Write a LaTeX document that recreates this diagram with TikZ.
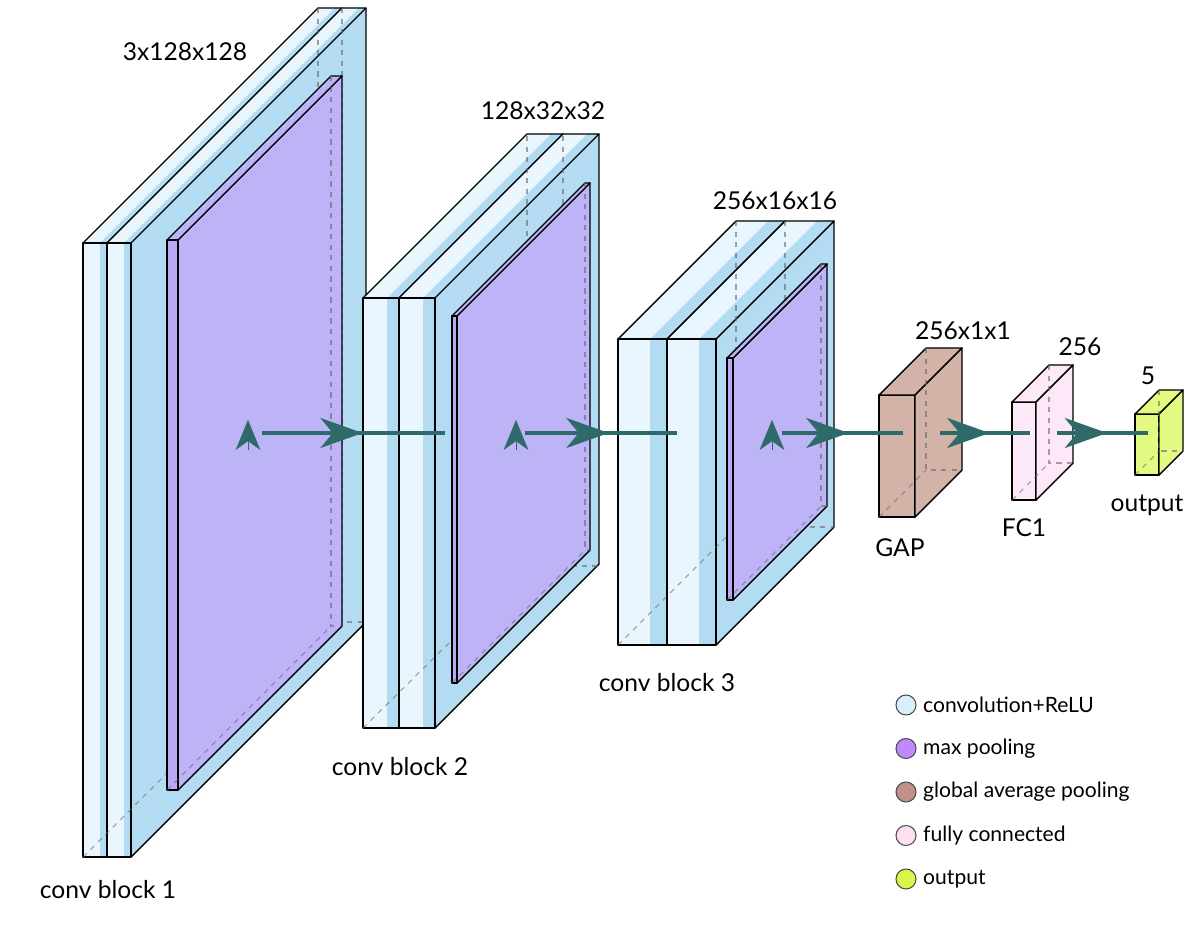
\documentclass[tikz,border=0pt]{standalone}
\usepackage{fontspec}
\setmainfont{Lato}
\usetikzlibrary{arrows.meta,decorations.markings,positioning}
\definecolor{convlight}{HTML}{EAF6FD}
\definecolor{convband}{HTML}{B3DBF1}
\definecolor{poolfill}{HTML}{BDB4F8}
\definecolor{poolfront}{HTML}{B9A8F2}
\definecolor{gapfill}{HTML}{D3B2A8}
\definecolor{fcfill}{HTML}{FDE8F8}
\definecolor{outfill}{HTML}{E2FA82}
\definecolor{arrowteal}{HTML}{2F6A6A}
\tikzset{
  edge/.style={draw=black,line width=0.8pt,line join=round},
  hidden/.style={draw=black!60,dashed,line width=0.6pt,opacity=0.6},
  lbl/.style={font=\fontsize{14}{16}\selectfont},
  flow/.style={draw=arrowteal,line width=2.2pt,
    postaction={decorate},decoration={markings,mark=at position 0.55 with
    {\arrow{Stealth[length=24pt,width=17pt,inset=7pt]}}}},
  tipmark/.style={-{Stealth[length=17pt,width=14pt,inset=5pt]},draw=arrowteal,fill=arrowteal,line width=0.1pt}
}
% cuboid: x, ytop, width, height, depth, fill
\newcommand{\cuboid}[6]{
  \filldraw[fill=#6,edge] (#1,#2) rectangle ({#1+#3},{#2+#4});
  \filldraw[fill=#6,edge] (#1,#2) -- ({#1+#5},{#2-#5}) -- ({#1+#3+#5},{#2-#5}) -- ({#1+#3},#2) -- cycle;
  \filldraw[fill=#6,edge] ({#1+#3},#2) -- ({#1+#3+#5},{#2-#5}) -- ({#1+#3+#5},{#2+#4-#5}) -- ({#1+#3},{#2+#4}) -- cycle;
  \draw[hidden] ({#1+#5},{#2-#5}) -- ({#1+#5},{#2+#4-#5}) -- ({#1+#3+#5},{#2+#4-#5});
  \draw[hidden] (#1,{#2+#4}) -- ({#1+#5},{#2+#4-#5});
}
% conv slab: x, ytop, width, height, depth, band
\newcommand{\convslab}[6]{
  \fill[convlight] (#1,#2) rectangle ({#1+#3},{#2+#4});
  \fill[convband] ({#1+#3-#6},#2) rectangle ({#1+#3},{#2+#4});
  \fill[convlight] (#1,#2) -- ({#1+#5},{#2-#5}) -- ({#1+#3+#5},{#2-#5}) -- ({#1+#3},#2) -- cycle;
  \fill[convband] ({#1+#3-#6},#2) -- ({#1+#3-#6+#5},{#2-#5}) -- ({#1+#3+#5},{#2-#5}) -- ({#1+#3},#2) -- cycle;
  \fill[convband] ({#1+#3},#2) -- ({#1+#3+#5},{#2-#5}) -- ({#1+#3+#5},{#2+#4-#5}) -- ({#1+#3},{#2+#4}) -- cycle;
  \draw[edge] (#1,#2) rectangle ({#1+#3},{#2+#4});
  \draw[edge] (#1,#2) -- ({#1+#5},{#2-#5}) -- ({#1+#3+#5},{#2-#5}) -- ({#1+#3},#2);
  \draw[edge] ({#1+#3+#5},{#2-#5}) -- ({#1+#3+#5},{#2+#4-#5}) -- ({#1+#3},{#2+#4});
}
% pool layer: x, ytop, width, height, depth
\newcommand{\poolslab}[5]{
  \filldraw[fill=poolfill,edge] ({#1+#3},#2) -- ({#1+#3+#5},{#2-#5}) -- ({#1+#3+#5},{#2+#4-#5}) -- ({#1+#3},{#2+#4}) -- cycle;
  \filldraw[fill=poolfill,edge] (#1,#2) -- ({#1+#5},{#2-#5}) -- ({#1+#3+#5},{#2-#5}) -- ({#1+#3},#2) -- cycle;
  \filldraw[fill=poolfront,edge] (#1,#2) rectangle ({#1+#3},{#2+#4});
  \draw[hidden] ({#1+#5},{#2-#5}) -- ({#1+#5},{#2+#4-#5}) -- ({#1+#3+#5},{#2+#4-#5});
  \draw[hidden] (#1,{#2+#4}) -- ({#1+#5},{#2+#4-#5});
}
\begin{document}
\begin{tikzpicture}[x=0.02cm,y=-0.02cm]
\useasboundingbox (0,0) rectangle (1200,942);

% conv block 1
\convslab{83}{243}{24}{614}{235}{7}
\convslab{107}{243}{24}{614}{235}{7}
\draw[hidden] (318,8) -- (318,622) -- (366,622);
\draw[hidden] (342,8) -- (342,622);
\draw[hidden] (83,857) -- (318,622);
\poolslab{167}{240}{11}{550}{164}

% conv block 2
\convslab{363}{298}{36}{430}{164}{12}
\convslab{399}{298}{36}{430}{164}{12}
\draw[hidden] (527,136) -- (527,566) -- (599,566);
\draw[hidden] (563,136) -- (563,566);
\draw[hidden] (363,728) -- (527,566);
\poolslab{452}{316}{5}{367}{133}

% conv block 3
\convslab{618}{339}{49}{306}{118}{17}
\convslab{667}{339}{49}{306}{118}{17}
\draw[hidden] (736,221) -- (736,527) -- (834,527);
\draw[hidden] (785,221) -- (785,527);
\draw[hidden] (618,645) -- (736,527);
\poolslab{727}{358}{6}{242}{94}

% head
\cuboid{879}{395}{36}{122}{47}{gapfill}
\cuboid{1012}{402}{24}{98}{37}{fcfill}
\cuboid{1135}{414}{24}{61}{24}{outfill}

% connections
\coordinate (p1) at (262,433); \coordinate (c2) at (445,433);
\coordinate (p2) at (525,433); \coordinate (c3) at (677,433);
\coordinate (p3) at (782,433); \coordinate (gapin) at (903,433);
\coordinate (gapout) at (940,433); \coordinate (fcin) at (1030,433);
\coordinate (fcout) at (1057,433); \coordinate (outin) at (1148,433);
\draw[flow] (p1) -- (c2);
\draw[flow] (p2) -- (c3);
\draw[flow] (p3) -- (gapin);
\draw[flow] (gapout) -- (fcin);
\draw[flow] (fcout) -- (outin);
\coordinate (m1) at (248,450); \coordinate (m1t) at (248,420);
\coordinate (m2) at (516,450); \coordinate (m2t) at (516,420);
\coordinate (m3) at (772,450); \coordinate (m3t) at (772,420);
\draw[tipmark] (m1) -- (m1t);
\draw[tipmark] (m2) -- (m2t);
\draw[tipmark] (m3) -- (m3t);

% labels
\node[lbl] (dim1) at (185,52) {3x128x128};
\node[lbl] (dim2) at (543,111) {128x32x32};
\node[lbl] (dim3) at (775,201) {256x16x16};
\node[lbl] (dimgap) at (963,331) {256x1x1};
\node[lbl] (dimfc) at (1080,347) {256};
\node[lbl] (dimout) at (1148,376) {5};
\node[lbl] (blk1) at (108,890) {conv block 1};
\node[lbl] (blk2) at (400,767) {conv block 2};
\node[lbl] (blk3) at (667,683) {conv block 3};
\node[lbl] (gap) at (900,548) {GAP};
\node[lbl] (fc1) at (1024,528) {FC1};
\node[lbl] (outl) at (1147,505) {output};

% legend
\foreach \c/\t [count=\i] in {D6EFFD/convolution+ReLU, C18AFC/max pooling,
  C3918A/global average pooling, FDE1F3/fully connected, D7F54B/output}{
  \definecolor{legc}{HTML}{\c}
  \filldraw[fill=legc,draw=black!70,line width=0.6pt] (906,{705+43.5*(\i-1)}) circle (10);
  \node[lbl,anchor=west,font=\fontsize{12}{14}\selectfont] (leg\i) at (917,{705+43.5*(\i-1)}) {\t};
}
\end{tikzpicture}
\end{document}
